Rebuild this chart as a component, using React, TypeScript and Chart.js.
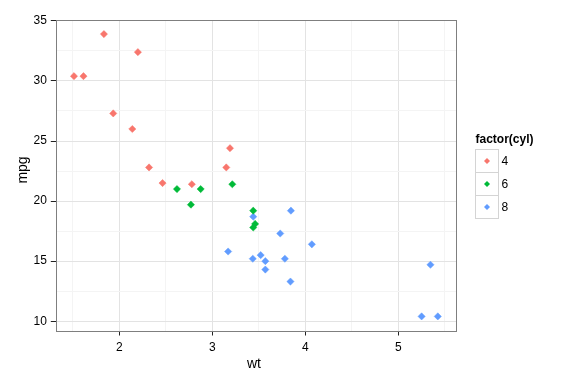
import React, { useEffect, useRef } from "react";
import { Chart, registerables } from "chart.js";

Chart.register(...registerables);

const wt4 = [2.32, 3.19, 3.15, 2.2, 1.615, 1.835, 2.465, 1.935, 2.14, 1.513, 2.78];
const mpg4 = [22.8, 24.4, 22.8, 32.4, 30.4, 33.9, 21.5, 27.3, 26.0, 30.4, 21.4];
const wt6 = [2.62, 2.875, 3.215, 3.46, 3.44, 3.44, 2.77];
const mpg6 = [21.0, 21.0, 21.4, 18.1, 19.2, 17.8, 19.7];
const wt8 = [3.44, 3.57, 4.07, 3.73, 3.78, 5.25, 5.424, 5.345, 3.52, 3.435, 3.84, 3.845, 3.17, 3.57];
const mpg8 = [18.7, 14.3, 16.4, 17.3, 15.2, 10.4, 10.4, 14.7, 15.5, 15.2, 13.3, 19.2, 15.8, 15.0];

const cylLabels = ["4", "6", "8"];
const cylColors = ["#F8766D", "#00BA38", "#619CFF"];
const xMajor = [2, 3, 4, 5];
const xMinor = [1.5, 2.5, 3.5, 4.5, 5.5];
const yMajor = [10, 15, 20, 25, 30, 35];
const yMinor = [12.5, 17.5, 22.5, 27.5, 32.5];
const xRange = [1.3175, 5.6196];
const yRange = [9.225, 35.075];
const xTitle = "wt";
const yTitle = "mpg";
const legendTitle = "factor(cyl)";

const FONT = "'Liberation Sans', Arial, sans-serif";

const toPts = (xs: number[], ys: number[]) => xs.map((x, i) => ({ x, y: ys[i] }));

export default function App() {
  const ref = useRef<HTMLCanvasElement | null>(null);
  useEffect(() => {
    if (!ref.current) return;
    const series = [toPts(wt4, mpg4), toPts(wt6, mpg6), toPts(wt8, mpg8)];
    const majorSet = (vals: number[]) => (v: number) => vals.includes(v);
    const isXMajor = majorSet(xMajor);
    const isYMajor = majorSet(yMajor);

    const panelPlugin = {
      id: "panel",
      beforeDatasetsDraw(chart: any) {
        const { ctx, chartArea: a } = chart;
        ctx.save();
        ctx.strokeStyle = "#7f7f7f";
        ctx.lineWidth = 1;
        ctx.strokeRect(Math.round(a.left) + 0.5, Math.round(a.top) + 0.5, Math.round(a.right - a.left), Math.round(a.bottom - a.top));
        ctx.restore();
      },
      afterDraw(chart: any) {
        const { ctx, chartArea: a } = chart;
        ctx.save();
        // axis titles
        ctx.fillStyle = "#000";
        ctx.font = `14px ${FONT}`;
        ctx.textAlign = "center";
        ctx.textBaseline = "middle";
        ctx.fillText(xTitle, (a.left + a.right) / 2 - 2, 364);
        ctx.save();
        ctx.translate(23, 170);
        ctx.rotate(-Math.PI / 2);
        ctx.fillText(yTitle, 0, 0);
        ctx.restore();
        // legend
        const lx = 475.5;
        ctx.fillStyle = "#000";
        ctx.font = `bold 12px ${FONT}`;
        ctx.textBaseline = "middle";
        ctx.textAlign = "left";
        ctx.fillText(legendTitle, lx, 140);
        const top = 149;
        const h = 23;
        cylLabels.forEach((lab, i) => {
          const y0 = top + i * h;
          ctx.fillStyle = "#ffffff";
          ctx.fillRect(lx, y0 + 0.5, 23, h);
          ctx.strokeStyle = "#d4d4d4";
          ctx.lineWidth = 1;
          ctx.strokeRect(lx, y0 + 0.5, 23, h);
          const cx = lx + 11.5;
          const cy = y0 + h / 2 + 0.5;
          ctx.fillStyle = cylColors[i];
          ctx.beginPath();
          ctx.moveTo(cx, cy - 3);
          ctx.lineTo(cx + 3, cy);
          ctx.lineTo(cx, cy + 3);
          ctx.lineTo(cx - 3, cy);
          ctx.closePath();
          ctx.fill();
          ctx.fillStyle = "#000";
          ctx.font = `12px ${FONT}`;
          ctx.fillText(lab, lx + 26, cy + 1);
        });
        ctx.restore();
      },
    };

    const chart = new Chart(ref.current, {
      type: "scatter",
      data: {
        datasets: series.map((data, i) => ({
          label: cylLabels[i],
          data,
          backgroundColor: cylColors[i],
          borderColor: cylColors[i],
          borderWidth: 0.5,
          pointStyle: "rectRot",
          pointRadius: 3.6,
          pointHoverRadius: 3.6,
        })),
      },
      options: {
        animation: false,
        responsive: false,
        events: [],
        layout: { padding: { top: 20, right: 120, left: 0, bottom: 0 } },
        plugins: { legend: { display: false }, tooltip: { enabled: false } },
        scales: {
          x: {
            type: "linear",
            min: xRange[0],
            max: xRange[1],
            afterBuildTicks: (s: any) => {
              s.ticks = [...xMinor, ...xMajor].sort((a, b) => a - b).map((v) => ({ value: v }));
            },
            afterFit: (s: any) => {
              s.height = 53.5;
            },
            border: { display: false },
            grid: {
              color: (c: any) => (isXMajor(c.tick?.value) ? "#e3e3e3" : "#f4f4f4"),
              tickColor: (c: any) => (isXMajor(c.tick?.value) ? "#222" : "rgba(0,0,0,0)"),
              tickLength: 5,
              lineWidth: 1,
            },
            ticks: {
              autoSkip: false,
              maxRotation: 0,
              padding: 5,
              color: "#000",
              font: { family: FONT, size: 12 },
              callback: (v: any) => (isXMajor(Number(v)) ? String(v) : ""),
            },
          },
          y: {
            type: "linear",
            min: yRange[0],
            max: yRange[1],
            afterBuildTicks: (s: any) => {
              s.ticks = [...yMinor, ...yMajor].sort((a, b) => a - b).map((v) => ({ value: v }));
            },
            afterFit: (s: any) => {
              s.width = 55.8;
            },
            border: { display: false },
            grid: {
              color: (c: any) => (isYMajor(c.tick?.value) ? "#e3e3e3" : "#f4f4f4"),
              tickColor: (c: any) => (isYMajor(c.tick?.value) ? "#222" : "rgba(0,0,0,0)"),
              tickLength: 5,
              lineWidth: 1,
            },
            ticks: {
              autoSkip: false,
              padding: 4,
              color: "#000",
              font: { family: FONT, size: 12 },
              callback: (v: any) => (isYMajor(Number(v)) ? String(v) : ""),
            },
          },
        },
      },
      plugins: [panelPlugin],
    } as any);
    return () => chart.destroy();
  }, []);

  return (
    <div style={{ position: "fixed", left: 0, top: 0, width: 576, height: 384, background: "#fff" }}>
      <canvas ref={ref} width={576} height={384} style={{ display: "block", width: 576, height: 384 }} />
    </div>
  );
}
